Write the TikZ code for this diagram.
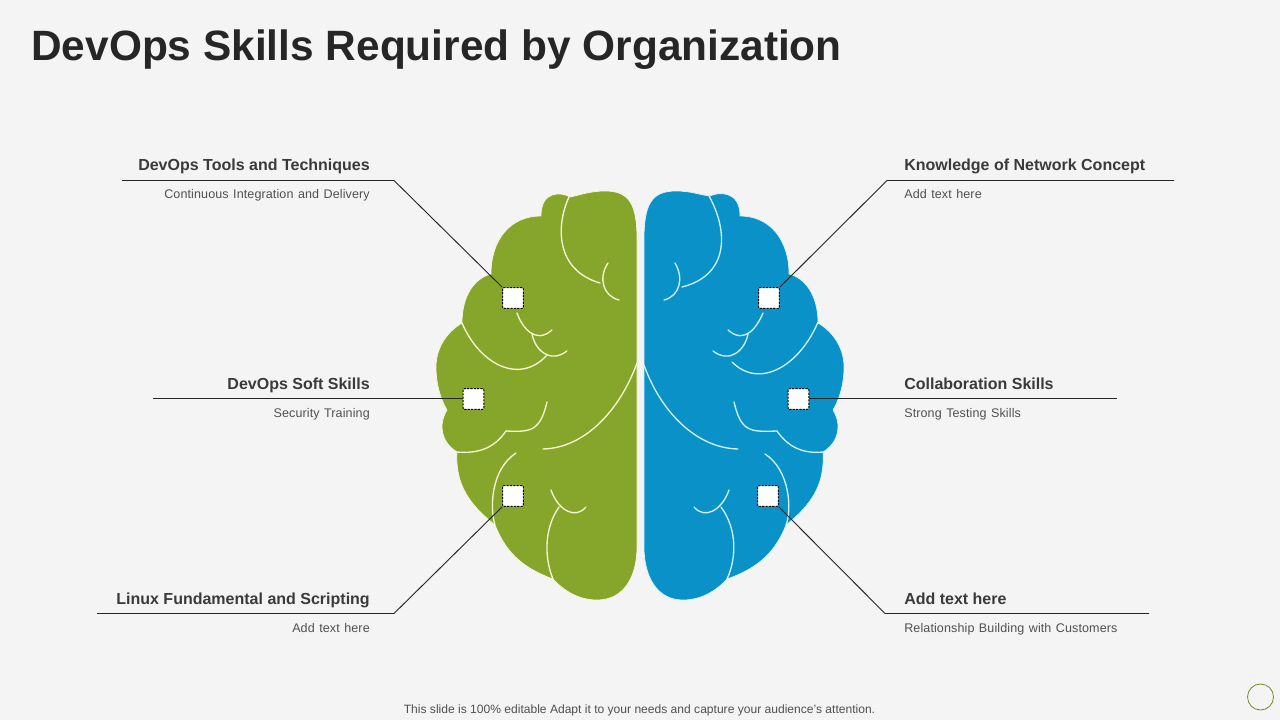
\documentclass[tikz,border=0pt]{standalone}
\usepackage{fontspec}
\setmainfont{Liberation Sans}
\newfontfamily\subfont[LetterSpace=.9,WordSpace=1.25]{Liberation Sans}
\definecolor{bgc}{HTML}{F4F4F4}
\definecolor{greenb}{HTML}{86A62B}
\definecolor{blueb}{HTML}{0991C8}
\definecolor{veing}{HTML}{F4F7D2}
\definecolor{veinb}{HTML}{CDF2FA}
\definecolor{txtd}{HTML}{262626}
\definecolor{txtm}{HTML}{3A3A3A}
\definecolor{txts}{HTML}{505050}
\tikzset{
  veinpath/.style={line width=1pt,line cap=round,line join=round},
  sq/.style={draw=black,fill=white,dash pattern=on 1.6pt off .9pt,line width=.7pt,minimum size=15.6pt,inner sep=0pt,rounded corners=1pt},
  lead/.style={draw=txtd,line width=.7pt},
  headl/.style={font=\fontsize{12}{14}\selectfont\bfseries,text=txtm,inner sep=0pt,anchor=base east},
  headr/.style={font=\fontsize{12}{14}\selectfont\bfseries,text=txtm,inner sep=0pt,anchor=base west},
  subl/.style={font=\subfont\fontsize{9.4}{11}\selectfont,text=txts,inner sep=0pt,anchor=base east},
  subr/.style={font=\subfont\fontsize{9.4}{11}\selectfont,text=txts,inner sep=0pt,anchor=base west},
}
\begin{document}
\begin{tikzpicture}[x=.75pt,y=-.75pt]
\useasboundingbox (0,0) rectangle (1280,720);
\fill[bgc] (0,0) rectangle (1280,720);
% title
\node[anchor=base west,inner sep=0pt,text=txtd,font=\fontsize{31.8}{38}\selectfont\bfseries] (title) at (31,61) {DevOps Skills Required by Organization};
% green hemisphere
\filldraw[fill=greenb,draw=veing!70!white,line width=.5pt,line join=round]
 (637,547) -- (637,240)
 .. controls (637,205) and (630,191) .. (605,191)
 .. controls (590,191) and (580,195) .. (570,197)
 .. controls (562,192) and (541,190) .. (541,216)
 .. controls (510,216) and (491,240) .. (491,274)
 .. controls (475,278) and (462,295) .. (462,323)
 .. controls (445,333) and (436,350) .. (436,367)
 .. controls (436,385) and (441,400) .. (447,410)
 .. controls (438,425) and (441,442) .. (457,452)
 .. controls (455,485) and (470,505) .. (495,525)
 .. controls (505,550) and (520,567) .. (553,579)
 .. controls (565,592) and (580,600) .. (597,600)
 .. controls (625,600) and (637,575) .. (637,547) -- cycle;
% blue hemisphere
\filldraw[fill=blueb,draw=veinb!70!white,line width=.5pt,line join=round]
 (644,547) -- (644,240)
 .. controls (644,205) and (651,191) .. (676,191)
 .. controls (691,191) and (700,195) .. (710,196)
 .. controls (718,192) and (740,190) .. (740,216)
 .. controls (770,216) and (789,240) .. (789,274)
 .. controls (805,278) and (818,295) .. (818,323)
 .. controls (835,333) and (844,350) .. (844,367)
 .. controls (844,385) and (839,400) .. (833,410)
 .. controls (842,425) and (839,442) .. (823,452)
 .. controls (825,485) and (811,505) .. (786,525)
 .. controls (776,550) and (761,567) .. (727,579)
 .. controls (715,592) and (700,600) .. (683,600)
 .. controls (656,600) and (644,575) .. (644,547) -- cycle;
% green veins
\begin{scope}[veinpath,draw=veing]
\draw (569,197) .. controls (556,225) and (555,270) .. (600,283);
\draw (608,263) .. controls (598,278) and (603,296) .. (619,300);
\draw (517,313) .. controls (522,327) and (535,345) .. (552,330);
\draw (532,334) .. controls (535,350) and (550,364) .. (567,351);
\draw (462,323) .. controls (480,365) and (520,385) .. (547,355);
\draw (637,363) .. controls (620,410) and (585,448) .. (543,449);
\draw (547,402) .. controls (540,432) and (530,432) .. (506,431);
\draw (506,431) .. controls (495,447) and (480,454) .. (457,452);
\draw (516,453) .. controls (490,470) and (490,510) .. (495,525);
\draw (551,490) .. controls (558,510) and (575,520) .. (586,507);
\draw (559,507) .. controls (543,530) and (545,560) .. (553,579);
\end{scope}
% blue veins
\begin{scope}[veinpath,draw=veinb]
\draw (709,196) .. controls (728,230) and (730,275) .. (682,287);
\draw (675,263) .. controls (684,278) and (680,296) .. (664,300);
\draw (763,313) .. controls (757,327) and (745,345) .. (728,330);
\draw (748,334) .. controls (745,350) and (730,364) .. (713,351);
\draw (818,322) .. controls (800,365) and (760,390) .. (732,362);
\draw (644,365) .. controls (660,410) and (695,448) .. (738,449);
\draw (734,402) .. controls (741,432) and (750,432) .. (777,431);
\draw (777,431) .. controls (788,447) and (803,454) .. (823,452);
\draw (765,454) .. controls (790,470) and (792,510) .. (786,525);
\draw (729,490) .. controls (722,510) and (705,520) .. (694,507);
\draw (721,507) .. controls (738,530) and (736,560) .. (727,579);
\end{scope}
% marker squares
\node[sq] (s1) at (513,298) {};
\node[sq] (s2) at (473.5,399) {};
\node[sq] (s3) at (513,496) {};
\node[sq] (s4) at (769,298) {};
\node[sq] (s5) at (798.5,399) {};
\node[sq] (s6) at (768,496) {};
% leader end points
\coordinate (a1) at (122,180.5); \coordinate (k1) at (394,180.5);
\coordinate (a2) at (153,398.5);
\coordinate (a3) at (97,613.5);  \coordinate (k3) at (394,613.5);
\coordinate (a4) at (1174,180.5); \coordinate (k4) at (887,180.5);
\coordinate (a5) at (1117,398.5);
\coordinate (a6) at (1149,613.5); \coordinate (k6) at (885,613.5);
\draw[lead] (a1) -- (k1) -- (s1.north west);
\draw[lead] (a2) -- (s2.west |- a2);
\draw[lead] (a3) -- (k3) -- (s3.south west);
\draw[lead] (a4) -- (k4) -- (s4.north east);
\draw[lead] (a5) -- (s5.east |- a5);
\draw[lead] (a6) -- (k6) -- (s6.south east);
% labels
\node[headl] (h1) at (370,171) {DevOps Tools and Techniques};
\node[subl]  (t1) at (370,199) {Continuous Integration and Delivery};
\node[headl] (h2) at (370,389) {DevOps Soft Skills};
\node[subl]  (t2) at (370,417) {Security Training};
\node[headl] (h3) at (370,604) {Linux Fundamental and Scripting};
\node[subl]  (t3) at (370,632) {Add text here};
\node[headr] (h4) at (904,171) {Knowledge of Network Concept};
\node[subr]  (t4) at (904,199) {Add text here};
\node[headr] (h5) at (904,389) {Collaboration Skills};
\node[subr]  (t5) at (904,417) {Strong Testing Skills};
\node[headr] (h6) at (904,604) {Add text here};
\node[subr]  (t6) at (904,632) {Relationship Building with Customers};
% footer
\node[anchor=base,inner sep=0pt,text=txts,font=\fontsize{9.05}{11}\selectfont] (foot) at (639.5,713) {This slide is 100\% editable Adapt it to your needs and capture your audience's attention.};
\node[circle,draw=greenb!85!black,line width=.6pt,minimum size=19.5pt,inner sep=0pt] (ring) at (1260.5,697) {};
\end{tikzpicture}
\end{document}
